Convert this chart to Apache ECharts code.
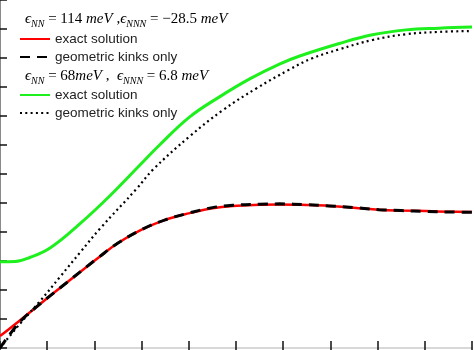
<!DOCTYPE html>
<html><head><meta charset="utf-8">
<script src="https://cdn.jsdelivr.net/npm/echarts@6/dist/echarts.min.js"></script>
<style>html,body{margin:0;padding:0;background:#fff}#c{width:474px;height:350px}</style>
</head><body><div id="c"></div>
<script>
// Series data (x in axis units 0..10, y in axis units 0..12)
var redX   = [0, 0.42, 0.85, 1.41, 2.11, 2.5, 3.0, 3.5, 4.02, 4.5, 4.93, 5.5, 5.92, 6.5, 6.98, 7.5, 8.03, 8.5, 9.03, 9.5, 10];
var redY   = [0.41, 0.95, 1.52, 2.25, 3.15, 3.62, 4.08, 4.42, 4.65, 4.82, 4.9, 4.94, 4.95, 4.93, 4.9, 4.84, 4.77, 4.74, 4.72, 4.7, 4.69];
var dashX  = [0, 0.42, 0.85, 1.41, 2.11, 2.5, 3.0, 3.5, 4.02, 4.5, 4.93, 5.5, 5.92, 6.5, 6.98, 7.5, 8.03, 8.5, 9.03, 9.5, 10];
var dashY  = [0, 0.9, 1.52, 2.25, 3.15, 3.62, 4.08, 4.42, 4.66, 4.84, 4.92, 4.96, 4.97, 4.94, 4.9, 4.84, 4.77, 4.74, 4.71, 4.69, 4.68];
var greenX = [0, 0.32, 0.63, 1.06, 1.69, 2.33, 2.96, 3.38, 4.02, 4.65, 5.29, 5.92, 6.35, 7.19, 7.89, 8.6, 9.3, 10];
var greenY = [2.97, 2.98, 3.12, 3.45, 4.28, 5.25, 6.3, 7.0, 7.97, 8.66, 9.28, 9.79, 10.07, 10.5, 10.8, 10.97, 11.03, 11.07];
var dotX   = [0, 0.42, 0.85, 1.27, 1.7, 2.11, 2.9, 3.24, 4.02, 4.72, 5.43, 6.13, 6.6, 7.19, 7.89, 8.6, 9.3, 10];
var dotY   = [0, 0.83, 1.62, 2.45, 3.3, 4.1, 5.5, 6.15, 7.3, 8.2, 8.95, 9.6, 9.98, 10.3, 10.62, 10.82, 10.9, 10.93];
var names  = ['exact solution (114)', 'geometric kinks only (114)', 'exact solution (68)', 'geometric kinks only (68)'];

function pairs(xs, ys){ return xs.map(function(x,i){ return [x, ys[i]]; }); }

var chart = echarts.init(document.getElementById('c'), null, {renderer:'canvas'});
var tick = {show:true, inside:true, length:7, lineStyle:{color:'#111', width:1.5}};
var base = {min:0, interval:1, splitLine:{show:false}, axisLabel:{show:false}};
var serif = "'Liberation Serif', 'DejaVu Serif', serif";
var rich = {
  i:{fontFamily:serif, fontStyle:'italic', fontSize:15, lineHeight:20, color:'#333'},
  r:{fontFamily:serif, fontSize:15, lineHeight:20, color:'#333'},
  s:{fontFamily:serif, fontStyle:'italic', fontSize:10, lineHeight:10, verticalAlign:'bottom', color:'#333'}
};
var legText = {fontFamily:"'Liberation Sans', Arial, sans-serif", fontSize:13.5, color:'#222'};
function fmt(n){ return n.replace(/ \(.*\)$/, ''); }

chart.setOption({
  animation:false,
  backgroundColor:'#fff',
  grid:{left:0, right:2, top:0, bottom:2},
  xAxis:[
    Object.assign({type:'value', max:10, position:'bottom', axisLine:{show:true, lineStyle:{color:'#d8d8d8', width:2}}, axisTick:tick}, base),
    Object.assign({type:'value', max:10, position:'top', axisLine:{show:false}, axisTick:tick}, base)
  ],
  yAxis:[
    Object.assign({type:'value', max:12, position:'left', axisLine:{show:false}, axisTick:tick}, base),
    Object.assign({type:'value', max:12, position:'right', axisLine:{show:true, lineStyle:{color:'#8a8a8a', width:2}}, axisTick:tick}, base)
  ],
  legend:[
    {data:[names[0], names[1]], orient:'vertical', left:19, top:32, padding:0, itemWidth:30, itemHeight:14, itemGap:4, itemStyle:{opacity:0}, textStyle:legText, formatter:fmt, selectedMode:false},
    {data:[names[2], names[3]], orient:'vertical', left:19, top:88, padding:0, itemWidth:30, itemHeight:13, itemGap:4, itemStyle:{opacity:0}, textStyle:legText, formatter:fmt, selectedMode:false}
  ],
  graphic:[
    {type:'text', left:25, top:12, silent:true, style:{text:'{i|ϵ}{s|NN}{r| = 114 }{i|meV }{r|,}{i|ϵ}{s|NNN}{r| = −28.5 }{i|meV}', rich:rich}},
    {type:'text', left:25, top:69, silent:true, style:{text:'{i|ϵ}{s|NN}{r| = 68}{i|meV }{r|,  }{i|ϵ}{s|NNN}{r| = 6.8 }{i|meV}', rich:rich}}
  ],
  series:[
    {name:names[0], type:'line', data:pairs(redX, redY), smooth:0.4, symbol:'none', lineStyle:{color:'#ff0000', width:2.5}, itemStyle:{color:'#ff0000'}, z:2},
    {name:names[1], type:'line', data:pairs(dashX, dashY), smooth:0.4, symbol:'none', lineStyle:{color:'#000', width:3, type:[10,7]}, itemStyle:{color:'#000'}, z:3},
    {name:names[2], type:'line', data:pairs(greenX, greenY), smooth:0.4, symbol:'none', lineStyle:{color:'#1ef01e', width:3}, itemStyle:{color:'#1ef01e'}, z:2},
    {name:names[3], type:'line', data:pairs(dotX, dotY), smooth:0.4, symbol:'none', lineStyle:{color:'#000', width:2.2, type:[2,3.3]}, itemStyle:{color:'#000'}, z:3}
  ]
});
</script></body></html>
